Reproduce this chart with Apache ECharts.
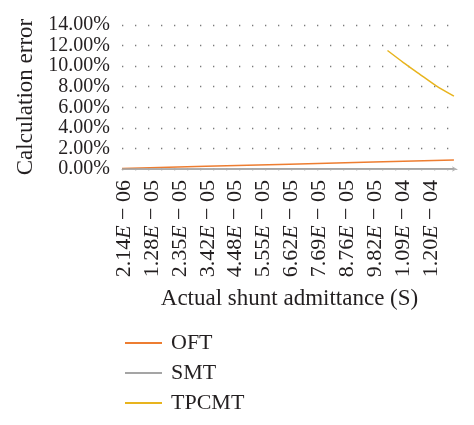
<!DOCTYPE html>
<html>
<head>
<meta charset="utf-8">
<script src="https://cdn.jsdelivr.net/npm/echarts@6/dist/echarts.min.js"></script>
<style>
  html, body { margin: 0; padding: 0; background: #fff; }
  #chart { width: 474px; height: 425px; }
</style>
</head>
<body>
<div id="chart"></div>
<script>
// tick labels on the x axis (mantissa, exponent), one per label step
const tickMantissa = ['2.14', '1.28', '2.35', '3.42', '4.48', '5.55', '6.62', '7.69', '8.76', '9.82', '1.09', '1.20']
const tickExponent = ['06', '05', '05', '05', '05', '05', '05', '05', '05', '05', '04', '04']

// x is measured in label steps (0 = first label), y is the error as a fraction
const oftData = [[0, 0.0005], [3, 0.0026], [6, 0.0047], [9, 0.0068], [11.89, 0.0088]]
const smtData = [[0, 0.0001], [6, 0.0002], [11.89, 0.0003]]
const tpcmtData = [[9.51, 0.1152], [10.08, 0.1035], [10.67, 0.0921], [11.27, 0.0806], [11.89, 0.0708]]

const serif = 'Liberation Serif'
const ink = '#231f20'

const chart = echarts.init(document.getElementById('chart'))

const option = {
  animation: false,
  textStyle: { fontFamily: serif, color: ink },
  grid: { left: 122, right: 17, top: 25, bottom: 256, outerBoundsMode: 'none' },
  legend: {
    orient: 'vertical',
    left: 120,
    top: 327,
    itemWidth: 37,
    itemHeight: 2,
    itemGap: 8,
    icon: 'rect',
    textStyle: { fontFamily: serif, fontSize: 22, color: ink, padding: [0, 0, 0, 4] },
    data: ['OFT', 'SMT', 'TPCMT'],
  },
  xAxis: {
    type: 'value',
    min: 0,
    max: 12,
    interval: 1,
    name: 'Actual shunt admittance (S)',
    nameLocation: 'middle',
    nameGap: 118,
    nameTextStyle: { fontFamily: serif, fontSize: 23, color: ink },
    axisLine: { show: true, lineStyle: { color: '#b4b4b4', width: 1 }, symbol: ['none', 'arrow'], symbolSize: [4, 5] },
    axisTick: { show: false },
    splitLine: { show: false },
    axisLabel: {
      rotate: 90,
      margin: 11,
      fontFamily: serif,
      fontSize: 22,
      color: ink,
      padding: [4, 0, 0, 0],
      hideOverlap: false,
      formatter: v => tickMantissa[v] ? `${ tickMantissa[v] }{i|E} − ${ tickExponent[v] }` : '',
      rich: { i: { fontStyle: 'italic', fontFamily: serif, fontSize: 22, color: ink } },
    },
  },
  yAxis: {
    type: 'value',
    min: 0,
    max: 0.14,
    interval: 0.02,
    name: 'Calculation error',
    nameLocation: 'middle',
    nameRotate: 90,
    nameGap: 83,
    nameTextStyle: { fontFamily: serif, fontSize: 23, color: ink },
    axisLine: { show: false },
    axisTick: { show: false },
    axisLabel: {
      margin: 12,
      fontFamily: serif,
      fontSize: 20,
      lineHeight: 16,
      color: ink,
      showMinLabel: true,
      showMaxLabel: true,
      hideOverlap: false,
      formatter: v => (v * 100).toFixed(2) + '%',
    },
    splitLine: { show: true, lineStyle: { color: '#7a7a7a', width: 1.3, type: [1.3, 11.7] } },
  },
  series: [
    {
      name: 'OFT', type: 'line', data: oftData, showSymbol: false,
      itemStyle: { color: '#ed7d31' }, lineStyle: { color: '#ed7d31', width: 1.5 },
    },
    {
      name: 'SMT', type: 'line', data: smtData, showSymbol: false,
      itemStyle: { color: '#a5a5a5' }, lineStyle: { color: '#a5a5a5', width: 1.5 },
    },
    {
      name: 'TPCMT', type: 'line', data: tpcmtData, showSymbol: false, smooth: 0.2,
      itemStyle: { color: '#e8b41e' }, lineStyle: { color: '#e8b41e', width: 1.5 },
    },
  ],
}

chart.setOption(option)
</script>
</body>
</html>
